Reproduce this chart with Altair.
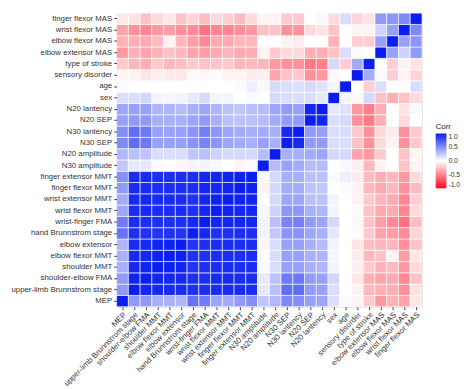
import altair as alt
import pandas as pd

variables = ["MEP", "upper-limb Brunnstrom stage", "shoulder-elbow FMA", "shoulder MMT",
             "elbow flexor MMT", "elbow extensor", "hand Brunnstrom stage", "wrist-finger FMA",
             "wrist flexor MMT", "wrist extensor MMT", "finger flexor MMT", "finger extensor MMT",
             "N30 amplitude", "N20 amplitude", "N30 SEP", "N30 lantency", "N20 SEP", "N20 lantency",
             "sex", "age", "sensory disorder", "type of stroke", "elbow extensor MAS",
             "elbow flexor MAS", "wrist flexor MAS", "finger flexor MAS"]

# upper triangle: correlations of variable i with variables i+1 .. 25
r00 = [0.45, 0.45, 0.35, 0.35, 0.33, 0.62, 0.58, 0.40, 0.38, 0.45, 0.50, 0.25, 0.32, 0.52, 0.50, 0.42, 0.40, 0.14, 0.02, -0.04, -0.22, -0.42, -0.32, -0.38, -0.10]
r01 = [0.97, 0.95, 0.95, 0.94, 0.92, 0.93, 0.94, 0.94, 0.94, 0.94, 0.10, 0.28, 0.65, 0.65, 0.45, 0.42, 0.15, 0.00, -0.05, -0.30, -0.32, -0.33, -0.45, -0.12]
r02 = [0.97, 0.96, 0.95, 0.92, 0.93, 0.95, 0.95, 0.94, 0.94, 0.10, 0.27, 0.60, 0.60, 0.45, 0.42, 0.18, 0.00, -0.10, -0.33, -0.37, -0.35, -0.48, -0.25]
r03 = [0.98, 0.97, 0.90, 0.92, 0.94, 0.94, 0.93, 0.93, 0.02, 0.15, 0.42, 0.42, 0.35, 0.33, 0.05, 0.00, -0.07, -0.22, -0.32, -0.28, -0.42, -0.15]
r04 = [0.98, 0.91, 0.92, 0.94, 0.94, 0.93, 0.93, 0.00, 0.15, 0.42, 0.42, 0.35, 0.33, 0.04, 0.00, -0.08, -0.30, -0.25, -0.05, -0.40, -0.10]
r05 = [0.90, 0.92, 0.94, 0.94, 0.93, 0.93, -0.04, 0.15, 0.42, 0.42, 0.35, 0.30, 0.05, 0.00, -0.10, -0.27, -0.30, -0.30, -0.45, -0.25]
r06 = [0.95, 0.92, 0.92, 0.93, 0.93, 0.05, 0.25, 0.48, 0.48, 0.40, 0.35, 0.10, 0.00, -0.02, -0.22, -0.37, -0.40, -0.47, -0.18]
r07 = [0.96, 0.96, 0.96, 0.96, 0.05, 0.28, 0.55, 0.57, 0.45, 0.40, 0.17, 0.00, -0.03, -0.25, -0.40, -0.48, -0.57, -0.27]
r08 = [0.98, 0.96, 0.96, 0.03, 0.20, 0.47, 0.47, 0.35, 0.33, 0.05, 0.00, -0.02, -0.25, -0.35, -0.35, -0.50, -0.15]
r09 = [0.97, 0.97, 0.00, 0.17, 0.40, 0.40, 0.28, 0.27, 0.05, 0.00, -0.05, -0.22, -0.30, -0.35, -0.50, -0.20]
r10 = [0.98, -0.05, 0.17, 0.37, 0.37, 0.27, 0.25, 0.00, 0.02, -0.05, -0.30, -0.35, -0.30, -0.45, -0.28]
r11 = [0.02, 0.17, 0.35, 0.35, 0.28, 0.28, 0.02, 0.07, -0.08, -0.28, -0.33, -0.30, -0.42, -0.15]
r12 = [0.30, 0.42, 0.37, 0.30, 0.30, 0.00, 0.03, -0.07, -0.30, -0.05, 0.00, -0.25, -0.05]
r13 = [0.35, 0.35, 0.38, 0.40, 0.17, 0.17, -0.37, -0.42, -0.22, 0.00, -0.25, -0.05]
r14 = [0.95, 0.45, 0.45, 0.15, 0.15, -0.25, -0.45, -0.15, -0.05, -0.45, -0.22]
r15 = [0.45, 0.42, 0.15, 0.15, -0.22, -0.45, -0.15, -0.08, -0.45, -0.22]
r16 = [0.96, 0.15, 0.17, -0.45, -0.55, -0.33, 0.00, -0.15, 0.00]
r17 = [0.10, 0.13, -0.42, -0.52, -0.33, 0.00, -0.12, 0.03]
r18 = [0.05, -0.03, 0.17, -0.25, -0.32, -0.25, -0.15]
r19 = [0.00, -0.20, 0.15, 0.00, 0.00, 0.15]
r20 = [0.38, 0.02, -0.20, -0.05, -0.17]
r21 = [0.00, -0.20, -0.05, -0.12]
r22 = [0.42, 0.20, 0.45]
r23 = [0.42, 0.47]
r24 = [0.52]

upper = [r00, r01, r02, r03, r04, r05, r06, r07, r08, r09, r10, r11, r12,
         r13, r14, r15, r16, r17, r18, r19, r20, r21, r22, r23, r24]

n = len(variables)
M = [[1.0] * n for _ in range(n)]
for i, row in enumerate(upper):
    for k, v in enumerate(row):
        j = i + 1 + k
        M[i][j] = v
        M[j][i] = v

records = []
for i in range(n):
    for j in range(n):
        records.append({"row": variables[i], "col": variables[j], "corr": M[i][j]})
df = pd.DataFrame(records)

label_color = "#333333"

chart = alt.Chart(df).mark_rect(stroke="white", strokeWidth=0.6).encode(
    x=alt.X("col:N", sort=variables,
            axis=alt.Axis(title=None, labelAngle=-45, labelAlign="right", labelBaseline="top",
                          labelFontSize=8, labelColor=label_color, tickColor="#444444",
                          tickSize=3, domain=False, labelPadding=1, labelLimit=200)),
    y=alt.Y("row:N", sort=list(reversed(variables)),
            axis=alt.Axis(title=None, labelFontSize=8, labelColor=label_color,
                          tickColor="#444444", tickSize=3, domain=False, labelPadding=2,
                          labelLimit=200)),
    color=alt.Color("corr:Q",
                    scale=alt.Scale(domain=[-1, 0, 1], range=["#FF0A1E", "#FFFFFF", "#0A1EF0"],
                                    interpolate="rgb"),
                    legend=alt.Legend(title="Corr", orient="none", legendX=326, legendY=112,
                                      gradientLength=56, gradientThickness=11,
                                      values=[-1, -0.5, 0, 0.5, 1],
                                      labelExpr="datum.value < 0 ? '-' + format(abs(datum.value), '.1f') : format(datum.value, '.1f')",
                                      labelFontSize=7, titleFontSize=8, titleFontWeight="normal",
                                      labelColor=label_color, titleColor="#222222",
                                      titlePadding=3)),
).properties(
    width=312, height=300, padding={"top": 0, "left": 2, "right": 5, "bottom": 5}
).configure_view(
    stroke="#AAAAAA", strokeWidth=1
).configure(
    font="Liberation Sans"
)

chart.save("out.html", embed_options={"renderer": "svg", "actions": False})
